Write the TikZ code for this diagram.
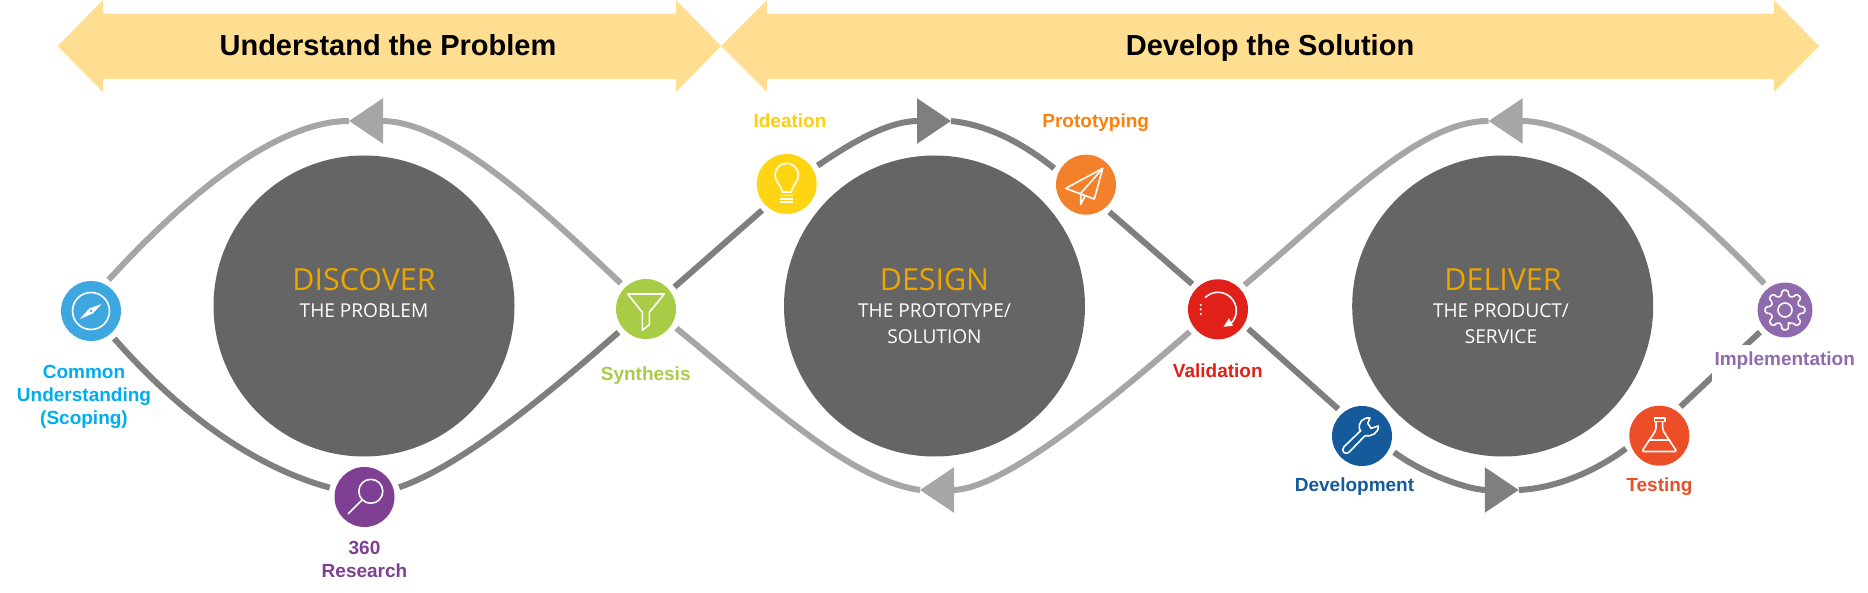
\documentclass[tikz,border=0pt]{standalone}
\usepackage{fontspec}
\setmainfont{Liberation Sans}
\newfontfamily\ofont{Open Sans}
\usetikzlibrary{arrows.meta}
\definecolor{bannerc}{HTML}{FFDE91}
\definecolor{bigc}{HTML}{656565}
\definecolor{lightl}{HTML}{A6A6A6}
\definecolor{darkl}{HTML}{7F7F7F}
\definecolor{goldc}{HTML}{EDA500}
\definecolor{cUnd}{HTML}{3FA7E0}\definecolor{tUnd}{HTML}{00ADEF}
\definecolor{cRes}{HTML}{7F3F92}
\definecolor{cSyn}{HTML}{A9CC47}
\definecolor{cIde}{HTML}{FFD513}\definecolor{tIde}{HTML}{FFCE0A}
\definecolor{cPro}{HTML}{F3812B}\definecolor{tPro}{HTML}{FF7F0A}
\definecolor{cVal}{HTML}{DF2119}
\definecolor{cDev}{HTML}{155A9A}
\definecolor{cTes}{HTML}{EC4F27}
\definecolor{cImp}{HTML}{8F6BAE}
\tikzset{
  x=0.5pt,y=-0.5pt,
  banner/.style={fill=bannerc,draw=none},
  bannertext/.style={font=\bfseries\fontsize{14.5pt}{16pt}\selectfont,text=black,inner sep=0pt,anchor=base},
  bigdisc/.style={circle,fill=bigc,minimum size=150.5pt,inner sep=0pt,outer sep=0pt},
  dot/.style={circle,fill=#1,minimum size=30pt,inner sep=0pt,outer sep=0pt},
  head/.style={font=\ofont\fontsize{15.2pt}{17pt}\selectfont,text=goldc,inner sep=0pt},
  sub/.style={font=\ofont\fontsize{9.55pt}{13pt}\selectfont,text=white,inner sep=0pt,align=center},
  lab/.style={font=\bfseries\fontsize{9.5pt}{11.5pt}\selectfont,text=#1,inner sep=0pt,align=center},
  light/.style={draw=lightl,line width=3pt,shorten <=3pt,shorten >=3pt},
  dark/.style={draw=darkl,line width=3pt,shorten <=3pt,shorten >=3pt},
  tolight/.style={draw=lightl,line width=3pt,shorten <=3pt,-{Triangle[length=17pt,width=22pt]}},
  todark/.style={draw=darkl,line width=3pt,shorten <=3pt,-{Triangle[length=17pt,width=22pt]}},
  fromtip/.style={line width=3pt,shorten >=3pt},
  icon/.style={draw=white,line width=0.8pt,line join=round,fill=none},
}
\begin{document}
\begin{tikzpicture}
\useasboundingbox (0,0) rectangle (1868,593);
% banners
\fill[banner] (57.7,46) -- (103,0) -- (103,13.6) -- (676,13.6) -- (676,0) -- (721,46) -- (676,92) -- (676,79) -- (103,79) -- (103,92) -- cycle;
\fill[banner] (721,46) -- (767,0) -- (767,13.6) -- (1774,13.6) -- (1774,0) -- (1819,46) -- (1774,92) -- (1774,79) -- (767,79) -- (767,92) -- cycle;
\node[bannertext] (bannerA) at (388,56) {Understand the Problem};
\node[bannertext] (bannerB) at (1270,56) {Develop the Solution};
% big discs
\node[bigdisc] (discover) at (364,306) {};
\node[bigdisc] (design) at (934.5,306) {};
\node[bigdisc] (deliver) at (1502.7,306) {};
% small discs
\node[dot=cUnd] (und) at (91,311) {};
\node[dot=cRes] (res) at (364.5,497) {};
\node[dot=cSyn] (syn) at (646,309) {};
\node[dot=cIde] (ide) at (786.7,184) {};
\node[dot=cPro] (pro) at (1086,184.7) {};
\node[dot=cVal] (val) at (1218,309.3) {};
\node[dot=cDev] (dev) at (1362,436) {};
\node[dot=cTes] (tes) at (1659.3,435.7) {};
\node[dot=cImp,minimum size=27.5pt] (imp) at (1785,310) {};
% arrow tips on the loops
\coordinate (tipA) at (349,121);
\coordinate (tipB) at (951,121);
\coordinate (tipC) at (920,490);
\coordinate (tipD) at (1488.5,121);
\coordinate (tipE) at (1518.8,490);
% connectors
\draw[tolight] (syn.134) .. controls (545,212) and (450,121) .. (tipA);
\draw[fromtip,draw=lightl] (tipA) .. controls (285,121) and (200,180) .. (und.63);
\draw[dark] (und.-50) .. controls (190,425) and (265,470) .. (res.165);
\draw[dark] (res.15) .. controls (455,468) and (530,410) .. (syn.220);
\draw[dark] (syn.37) -- (ide.228);
\draw[todark] (ide.30) .. controls (855,140) and (890,121) .. (tipB);
\draw[fromtip,draw=darkl] (tipB) .. controls (990,125) and (1025,145) .. (pro.155);
\draw[dark] (pro.-51) -- (val.135);
\draw[tolight] (val.218) .. controls (1100,410) and (1000,490) .. (tipC);
\draw[fromtip,draw=lightl] (tipC) .. controls (850,480) and (770,405) .. (syn.-31);
\draw[tolight] (imp.127) .. controls (1690,205) and (1590,121) .. (tipD);
\draw[fromtip,draw=lightl] (tipD) .. controls (1420,121) and (1345,200) .. (val.43);
\draw[dark] (val.-31) -- (dev.130);
\draw[todark] (dev.-25) .. controls (1425,475) and (1470,490) .. (tipE);
\draw[fromtip,draw=darkl] (tipE) .. controls (1560,488) and (1600,468) .. (tes.198);
\draw[dark] (tes.56) -- (imp.221);
% disc texts
\node[head] (h1) at (364,280) {DISCOVER};
\node[sub] (s1) at (364,311) {THE PROBLEM};
\node[head] (h2) at (934.5,280) {DESIGN};
\node[sub] (s2) at (934.5,324) {THE PROTOTYPE/\\SOLUTION};
\node[head] (h3) at (1503,280) {DELIVER};
\node[sub] (s3) at (1501,324) {THE PRODUCT/\\SERVICE};
% labels
\node[lab=tUnd] (lund) at (84,396.5) {Common\\Understanding\\(Scoping)};
\node[lab=cRes] (lres) at (364.5,559.5) {360\\Research};
\node[lab=cSyn] (lsyn) at (645.7,376) {Synthesis};
\node[lab=tIde] (lide) at (790,120.5) {Ideation};
\node[lab=tPro] (lpro) at (1095.7,123) {Prototyping};
\node[lab=cVal] (lval) at (1217.8,371) {Validation};
\node[lab=cDev] (ldev) at (1354.5,487) {Development};
\node[lab=cTes] (ltes) at (1659.5,486.5) {Testing};
\node[lab=cImp,fill=white,anchor=base,text height=10pt,text depth=8pt,inner xsep=1.5pt] (limp) at (1784.7,365) {Implementation};
% icons
\begin{scope}[shift={(und.center)}]
  \draw[icon] (0,0) circle (18.5);
  \fill[white] (-11,8) -- (-1.8,-2.5) -- (10.7,-7) -- (1.8,2.5) -- cycle;
  \fill[cUnd] (0,0) circle (1.4);
\end{scope}
\begin{scope}[shift={(res.center)}]
  \draw[icon] (6.3,-5.7) circle (12);
  \draw[icon,line cap=round] (-2.3,2.7) -- (-16.3,16.7);
\end{scope}
\begin{scope}[shift={(syn.center)}]
  \draw[icon] (-18.3,-15) -- (18.3,-15) -- (3.3,3.3) -- (3.3,15.7) -- (-3.7,21.3) -- (-3.7,3.3) -- cycle;
\end{scope}
\begin{scope}[shift={(ide.center)}]
  \draw[icon] (-4.5,8) .. controls (-5,2) and (-11.7,-2) .. (-11.7,-9) arc[start angle=180,end angle=360,radius=11.7] .. controls (11.7,-2) and (5,2) .. (4.5,8) -- cycle;
  \draw[icon] (-6.5,11.5) -- (6.5,11.5) (-6.5,14.8) -- (6.5,14.8) (-6.5,18) -- (6.5,18);
\end{scope}
\begin{scope}[shift={(pro.center)}]
  \draw[icon] (16.7,-16.3) -- (-20.3,3.7) -- (8.3,14.3) -- cycle;
  \draw[icon] (16.7,-16.3) -- (-5.3,8.7) -- (-5.3,19.7) -- (-1,11.3);
\end{scope}
\begin{scope}[shift={(val.center)}]
  \draw[icon] (225:18.3) ++(0,1.3) arc[start angle=225,end angle=405,radius=18.3];
  \fill[white] (5.5,17.5) -- (15,16.5) -- (11,9) -- cycle;
  \fill[white] (-17.3,-4.3) circle (1.2) (-17.3,0) circle (1.2) (-17.3,4.7) circle (1.2);
\end{scope}
\begin{scope}[shift={(dev.center)}]
  \draw[icon] (-12.7,16) -- (3,-0.3) .. controls (9,1) and (17,-3) .. (16.3,-10) -- (9,-7.7) -- (5.7,-12.7) -- (8,-18) .. controls (1,-19) and (-5,-13) .. (-2,-5.8) -- (-1.3,-5.3) -- (-18,10.7) .. controls (-22,15) and (-16,20) .. (-12.7,16) -- cycle;
\end{scope}
\begin{scope}[shift={(tes.center)}]
  \draw[icon] (-5,-17.7) rectangle (5.7,-14.3);
  \draw[icon,rounded corners=1pt] (-3.3,-14.3) -- (-3.3,-5.7) -- (-17.5,15.8) -- (17.5,15.8) -- (3.3,-5.7) -- (3.3,-14.3);
  \draw[icon] (-10.3,4.3) -- (10.7,4.3);
\end{scope}
\begin{scope}[shift={(imp.center)}]
  \draw[icon,rounded corners=0.8pt] (76:14.5)
    \foreach \a in {90,135,...,405} { -- (\a-14:14.5) -- (\a-9:20) -- (\a+9:20) -- (\a+14:14.5) } -- cycle;
  \draw[icon] (0,0) circle (7);
\end{scope}
\end{tikzpicture}
\end{document}
